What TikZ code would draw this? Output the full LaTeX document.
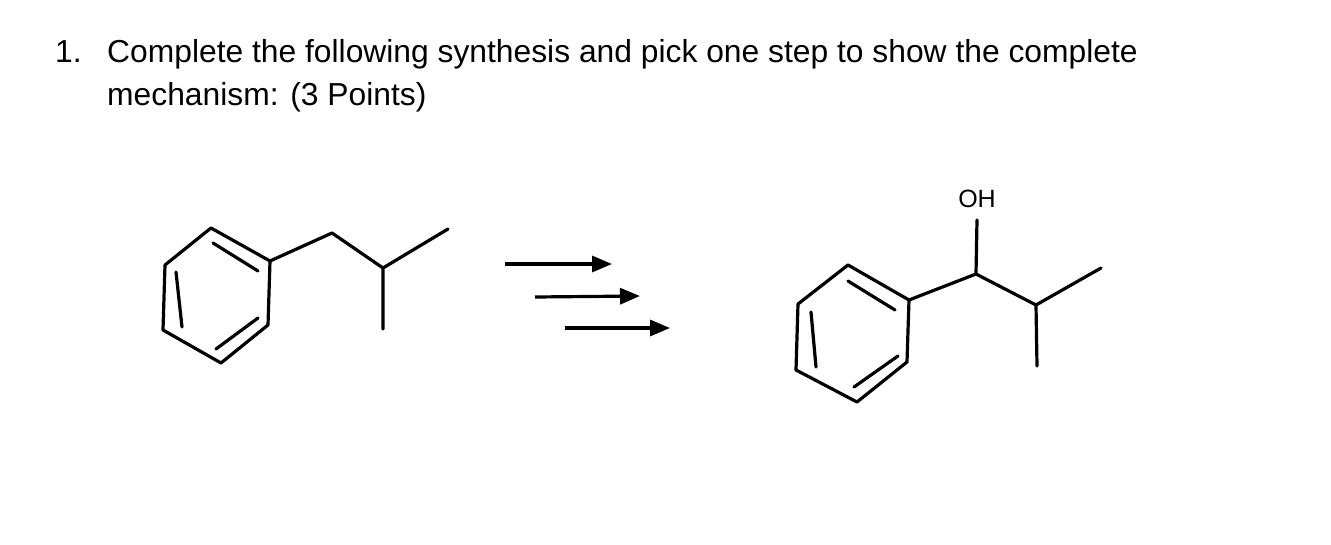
\documentclass[tikz,border=0pt]{standalone}
\usepackage{fontspec}
\setmainfont{Liberation Sans}
\usetikzlibrary{arrows.meta}
\begin{document}
\begin{tikzpicture}[x=1pt,y=-1pt,bond/.style={line width=3.2pt,line cap=round,line join=round},
 arr/.style={line width=3.2pt,-{Triangle[length=20pt,width=16pt]}},
 txt/.style={font=\fontsize{31.8}{36}\selectfont,anchor=base west,inner sep=0pt}]
\useasboundingbox (0,0) rectangle (1331,544);
\node[txt] (n1) at (55,62) {1.};
\node[txt] (l1) at (107,62) {Complete the following synthesis and pick one step to show the complete};
\node[txt] (l2) at (107,105) {mechanism: (3 Points)};
% left molecule
\draw[bond] (211,228)--(270,261)--(268,325)--(221,363)--(163,330)--(165,265)--cycle;
\draw[bond] (213,243)--(258,271) (176,272)--(182,327) (216,349)--(258,318);
\draw[bond] (270,261)--(332,233)--(383,268)--(448,229) (383,268)--(383,329);
% arrows
\coordinate (a1s) at (505,264); \coordinate (a1e) at (612,264);
\coordinate (a2s) at (535,297); \coordinate (a2e) at (640,296);
\coordinate (a3s) at (565,328); \coordinate (a3e) at (670,328);
\draw[arr] (a1s)--(a1e); \draw[arr] (a2s)--(a2e); \draw[arr] (a3s)--(a3e);
% right molecule
\draw[bond] (848,265)--(909,300)--(907,362)--(857,402)--(796,370)--(798,304)--cycle;
\draw[bond] (848,281)--(895,310) (811,312)--(816,367) (854,387)--(898,356);
\draw[bond] (909,300)--(976,274)--(1036,305)--(1101,268) (1036,305)--(1037,366);
\node[font=\fontsize{25}{28}\selectfont,inner sep=0pt] (oh) at (977,199) {OH};
\draw[bond] (976,274)--(977,220);
\end{tikzpicture}
\end{document}
